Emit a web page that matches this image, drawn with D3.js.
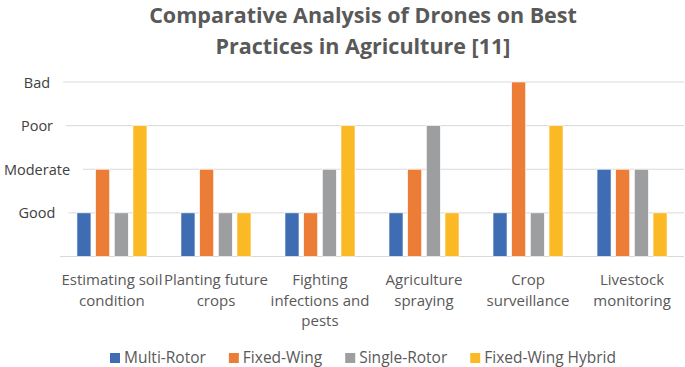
<!DOCTYPE html>
<html>
<head>
<meta charset="utf-8">
<script src="https://cdn.jsdelivr.net/npm/d3@7"></script>
<style>
  body { margin: 0; background: #fff; }
  svg { display: block; font-family: "Open Sans", Lato, sans-serif; }
</style>
</head>
<body>
<svg id="chart" width="685" height="367"></svg>
<script>
const titleLines = ["Comparative Analysis of Drones on Best", "Practices in Agriculture [11]"];
const categories = [
    ["Estimating soil", "condition"],
    ["Planting future", "crops"],
    ["Fighting", "infections and", "pests"],
    ["Agriculture", "spraying"],
    ["Crop", "surveillance"],
    ["Livestock", "monitoring"]
];
const series = ["Multi-Rotor", "Fixed-Wing", "Single-Rotor", "Fixed-Wing Hybrid"];
const multiRotor = [1, 1, 1, 1, 1, 2];
const fixedWing = [2, 2, 1, 2, 4, 2];
const singleRotor = [1, 1, 2, 3, 1, 2];
const fixedWingHybrid = [3, 1, 3, 1, 3, 1];
const yTickLabels = ["Good", "Moderate", "Poor", "Bad"];
const colors = ["#3F6DB3", "#EC7D36", "#9D9E9F", "#FBBA25"];

const allValues = [multiRotor, fixedWing, singleRotor, fixedWingHybrid];
const svg = d3.select("#chart");
const textColor = "#595959";

const plotLeft = 60, plotRight = 684, plotTop = 82, plotBottom = 256.5;
const centerX = 363;

const x0 = d3.scaleBand()
    .domain(d3.range(categories.length))
    .range([plotLeft, plotRight])
    .paddingInner(0.327)
    .paddingOuter(0.163);
const x1 = d3.scaleBand()
    .domain(d3.range(series.length))
    .range([0, x0.bandwidth()])
    .paddingInner(0.25);
const y = d3.scaleLinear()
    .domain([0, 4])
    .range([plotBottom, plotTop]);

// title
svg.append("g")
    .selectAll("text")
    .data(titleLines)
    .join("text")
    .attr("x", centerX)
    .attr("y", function (d, i) { return 23 + i * 31; })
    .attr("text-anchor", "middle")
    .attr("font-size", "21.5px")
    .attr("font-weight", "bold")
    .attr("fill", textColor)
    .text(function (d) { return d; });

// y tick labels
const yLabels = svg.append("g")
    .selectAll("text")
    .data(yTickLabels)
    .join("text")
    .attr("x", 37)
    .attr("y", function (d, i) { return y(i + 1) + 5.5; })
    .attr("text-anchor", "middle")
    .attr("font-size", "14.5px")
    .attr("fill", "#404040")
    .text(function (d) { return d; });

// gridlines start a little after the label
const grid = svg.insert("g", ":first-child");
yLabels.each(function (d, i) {
    const bb = this.getBBox();
    grid.append("line")
        .attr("x1", Math.max(plotLeft, bb.x + bb.width + 13))
        .attr("x2", plotRight)
        .attr("y1", y(i + 1))
        .attr("y2", y(i + 1))
        .attr("stroke", "#d9d9d9")
        .attr("stroke-width", 1);
});
grid.append("line")
    .attr("x1", plotLeft)
    .attr("x2", plotRight)
    .attr("y1", y(0))
    .attr("y2", y(0))
    .attr("stroke", "#d9d9d9")
    .attr("stroke-width", 1);

// bars
const groups = svg.append("g")
    .selectAll("g")
    .data(categories)
    .join("g")
    .attr("transform", function (d, i) { return `translate(${x0(i)},0)`; });

groups.selectAll("rect")
    .data(function (d, i) { return allValues.map(function (vals, s) { return { s: s, v: vals[i] }; }); })
    .join("rect")
    .attr("x", function (d) { return x1(d.s); })
    .attr("y", function (d) { return y(d.v); })
    .attr("width", x1.bandwidth())
    .attr("height", function (d) { return y(0) - y(d.v); })
    .attr("fill", function (d) { return colors[d.s]; })
    .attr("stroke", "#fff")
    .attr("stroke-width", 0.6);

// category labels
svg.append("g")
    .selectAll("text")
    .data(categories)
    .join("text")
    .attr("x", function (d, i) { return x0(i) + x0.bandwidth() / 2; })
    .attr("y", 285)
    .attr("text-anchor", "middle")
    .attr("font-size", "15px")
    .attr("fill", textColor)
    .each(function (d) {
        const t = d3.select(this);
        d.forEach(function (line, k) {
            t.append("tspan")
                .attr("x", t.attr("x"))
                .attr("dy", k === 0 ? 0 : 20.5)
                .text(line);
        });
    });

// legend
const legend = svg.append("g");
let lx = 0;
series.forEach(function (name, i) {
    const item = legend.append("g").attr("transform", `translate(${lx},0)`);
    item.append("rect")
        .attr("x", 0)
        .attr("y", -5)
        .attr("width", 10)
        .attr("height", 10)
        .attr("fill", colors[i]);
    const t = item.append("text")
        .attr("x", 14)
        .attr("y", 5)
        .attr("font-size", "15.5px")
        .attr("fill", textColor)
        .text(name);
    lx += 14 + t.node().getComputedTextLength() + 23;
});
const legendWidth = lx - 23;
legend.attr("transform", `translate(${centerX - legendWidth / 2},358)`);
</script>
</body>
</html>
